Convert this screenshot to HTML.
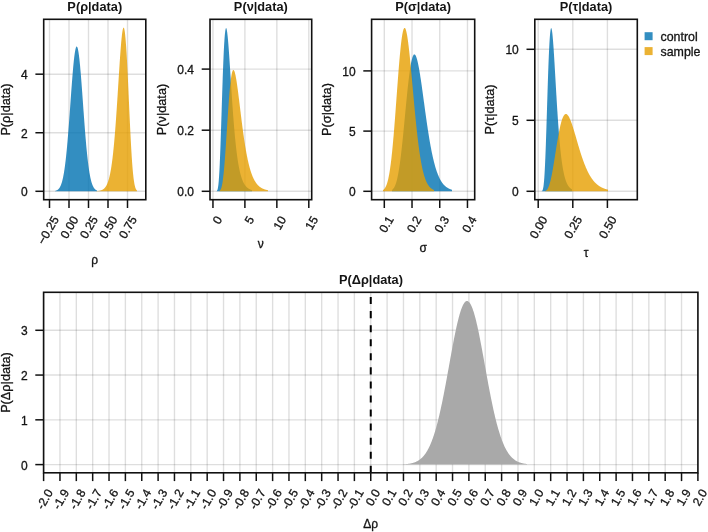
<!DOCTYPE html>
<html><head><meta charset="utf-8"><style>
html,body{margin:0;padding:0;background:#fff;}
body{width:708px;height:532px;position:relative;overflow:hidden;font-family:"Liberation Sans",sans-serif;}
</style></head><body>
<svg width="708" height="532" viewBox="0 0 708 532" style="position:absolute;left:0;top:0;will-change:transform">
<rect width="708" height="532" fill="#fff"/>
<g font-family="Liberation Sans, sans-serif" stroke-width="0.3">
<line x1="49.50" y1="19.3" x2="49.50" y2="199.7" stroke="rgba(0,0,0,0.13)" stroke-width="1.4"/>
<line x1="69.00" y1="19.3" x2="69.00" y2="199.7" stroke="rgba(0,0,0,0.13)" stroke-width="1.4"/>
<line x1="88.50" y1="19.3" x2="88.50" y2="199.7" stroke="rgba(0,0,0,0.13)" stroke-width="1.4"/>
<line x1="108.00" y1="19.3" x2="108.00" y2="199.7" stroke="rgba(0,0,0,0.13)" stroke-width="1.4"/>
<line x1="127.50" y1="19.3" x2="127.50" y2="199.7" stroke="rgba(0,0,0,0.13)" stroke-width="1.4"/>
<line x1="43.7" y1="191.30" x2="145.8" y2="191.30" stroke="rgba(0,0,0,0.13)" stroke-width="1.4"/>
<line x1="43.7" y1="132.74" x2="145.8" y2="132.74" stroke="rgba(0,0,0,0.13)" stroke-width="1.4"/>
<line x1="43.7" y1="74.18" x2="145.8" y2="74.18" stroke="rgba(0,0,0,0.13)" stroke-width="1.4"/>
<line x1="212.95" y1="19.3" x2="212.95" y2="199.7" stroke="rgba(0,0,0,0.13)" stroke-width="1.4"/>
<line x1="244.90" y1="19.3" x2="244.90" y2="199.7" stroke="rgba(0,0,0,0.13)" stroke-width="1.4"/>
<line x1="276.85" y1="19.3" x2="276.85" y2="199.7" stroke="rgba(0,0,0,0.13)" stroke-width="1.4"/>
<line x1="308.80" y1="19.3" x2="308.80" y2="199.7" stroke="rgba(0,0,0,0.13)" stroke-width="1.4"/>
<line x1="210.0" y1="191.30" x2="311.7" y2="191.30" stroke="rgba(0,0,0,0.13)" stroke-width="1.4"/>
<line x1="210.0" y1="130.20" x2="311.7" y2="130.20" stroke="rgba(0,0,0,0.13)" stroke-width="1.4"/>
<line x1="210.0" y1="69.10" x2="311.7" y2="69.10" stroke="rgba(0,0,0,0.13)" stroke-width="1.4"/>
<line x1="384.30" y1="19.3" x2="384.30" y2="199.7" stroke="rgba(0,0,0,0.13)" stroke-width="1.4"/>
<line x1="412.02" y1="19.3" x2="412.02" y2="199.7" stroke="rgba(0,0,0,0.13)" stroke-width="1.4"/>
<line x1="439.74" y1="19.3" x2="439.74" y2="199.7" stroke="rgba(0,0,0,0.13)" stroke-width="1.4"/>
<line x1="467.46" y1="19.3" x2="467.46" y2="199.7" stroke="rgba(0,0,0,0.13)" stroke-width="1.4"/>
<line x1="371.6" y1="191.30" x2="474.7" y2="191.30" stroke="rgba(0,0,0,0.13)" stroke-width="1.4"/>
<line x1="371.6" y1="131.10" x2="474.7" y2="131.10" stroke="rgba(0,0,0,0.13)" stroke-width="1.4"/>
<line x1="371.6" y1="70.90" x2="474.7" y2="70.90" stroke="rgba(0,0,0,0.13)" stroke-width="1.4"/>
<line x1="538.20" y1="19.3" x2="538.20" y2="199.7" stroke="rgba(0,0,0,0.13)" stroke-width="1.4"/>
<line x1="572.80" y1="19.3" x2="572.80" y2="199.7" stroke="rgba(0,0,0,0.13)" stroke-width="1.4"/>
<line x1="607.40" y1="19.3" x2="607.40" y2="199.7" stroke="rgba(0,0,0,0.13)" stroke-width="1.4"/>
<line x1="534.8" y1="191.30" x2="637.3" y2="191.30" stroke="rgba(0,0,0,0.13)" stroke-width="1.4"/>
<line x1="534.8" y1="120.30" x2="637.3" y2="120.30" stroke="rgba(0,0,0,0.13)" stroke-width="1.4"/>
<line x1="534.8" y1="49.30" x2="637.3" y2="49.30" stroke="rgba(0,0,0,0.13)" stroke-width="1.4"/>
<path d="M55.00,191.30 L55.00,190.92 55.14,190.89 55.28,190.85 55.42,190.82 55.56,190.78 55.70,190.74 55.84,190.70 55.98,190.65 56.12,190.60 56.26,190.55 56.40,190.49 56.55,190.43 56.69,190.37 56.83,190.30 56.97,190.23 57.11,190.15 57.25,190.07 57.39,189.98 57.53,189.89 57.67,189.79 57.81,189.68 57.95,189.57 58.09,189.45 58.23,189.33 58.37,189.20 58.51,189.06 58.65,188.91 58.79,188.75 58.93,188.59 59.07,188.41 59.21,188.22 59.35,188.03 59.49,187.82 59.64,187.61 59.78,187.38 59.92,187.13 60.06,186.88 60.20,186.61 60.34,186.33 60.48,186.04 60.62,185.73 60.76,185.40 60.90,185.06 61.04,184.71 61.18,184.33 61.32,183.94 61.46,183.53 61.60,183.10 61.74,182.66 61.88,182.19 62.02,181.70 62.16,181.19 62.30,180.66 62.44,180.11 62.59,179.53 62.73,178.93 62.87,178.31 63.01,177.66 63.15,176.98 63.29,176.28 63.43,175.56 63.57,174.80 63.71,174.02 63.85,173.22 63.99,172.38 64.13,171.51 64.27,170.62 64.41,169.69 64.55,168.74 64.69,167.75 64.83,166.74 64.97,165.69 65.11,164.61 65.25,163.50 65.39,162.36 65.54,161.19 65.68,159.98 65.82,158.74 65.96,157.47 66.10,156.17 66.24,154.83 66.38,153.47 66.52,152.07 66.66,150.64 66.80,149.18 66.94,147.69 67.08,146.17 67.22,144.62 67.36,143.04 67.50,141.43 67.64,139.79 67.78,138.12 67.92,136.43 68.06,134.72 68.20,132.97 68.34,131.21 68.48,129.42 68.63,127.61 68.77,125.78 68.91,123.93 69.05,122.07 69.19,120.18 69.33,118.28 69.47,116.37 69.61,114.45 69.75,112.52 69.89,110.57 70.03,108.63 70.17,106.67 70.31,104.71 70.45,102.76 70.59,100.80 70.73,98.84 70.87,96.89 71.01,94.95 71.15,93.02 71.29,91.09 71.43,89.18 71.58,87.29 71.72,85.41 71.86,83.55 72.00,81.72 72.14,79.91 72.28,78.12 72.42,76.36 72.56,74.64 72.70,72.94 72.84,71.29 72.98,69.67 73.12,68.08 73.26,66.54 73.40,65.05 73.54,63.60 73.68,62.19 73.82,60.84 73.96,59.54 74.10,58.29 74.24,57.09 74.38,55.96 74.53,54.88 74.67,53.86 74.81,52.90 74.95,52.00 75.09,51.17 75.23,50.40 75.37,49.70 75.51,49.07 75.65,48.50 75.79,48.01 75.93,47.58 76.07,47.22 76.21,46.94 76.35,46.72 76.49,46.58 76.63,46.51 76.77,46.51 76.91,46.58 77.05,46.73 77.19,46.94 77.33,47.23 77.47,47.59 77.62,48.02 77.76,48.52 77.90,49.09 78.04,49.72 78.18,50.43 78.32,51.20 78.46,52.03 78.60,52.93 78.74,53.89 78.88,54.91 79.02,55.99 79.16,57.13 79.30,58.33 79.44,59.58 79.58,60.88 79.72,62.24 79.86,63.65 80.00,65.10 80.14,66.60 80.28,68.14 80.42,69.72 80.57,71.34 80.71,73.00 80.85,74.69 80.99,76.42 81.13,78.18 81.27,79.97 81.41,81.78 81.55,83.62 81.69,85.47 81.83,87.35 81.97,89.25 82.11,91.16 82.25,93.08 82.39,95.02 82.53,96.96 82.67,98.91 82.81,100.86 82.95,102.82 83.09,104.78 83.23,106.74 83.37,108.69 83.52,110.64 83.66,112.58 83.80,114.51 83.94,116.44 84.08,118.35 84.22,120.25 84.36,122.13 84.50,123.99 84.64,125.84 84.78,127.67 84.92,129.48 85.06,131.27 85.20,133.03 85.34,134.77 85.48,136.49 85.62,138.18 85.76,139.84 85.90,141.48 86.04,143.09 86.18,144.67 86.32,146.22 86.46,147.74 86.61,149.23 86.75,150.69 86.89,152.12 87.03,153.51 87.17,154.88 87.31,156.21 87.45,157.51 87.59,158.78 87.73,160.02 87.87,161.23 88.01,162.40 88.15,163.54 88.29,164.65 88.43,165.73 88.57,166.77 88.71,167.79 88.85,168.77 88.99,169.73 89.13,170.65 89.27,171.54 89.41,172.41 89.56,173.24 89.70,174.05 89.84,174.83 89.98,175.58 90.12,176.31 90.26,177.01 90.40,177.68 90.54,178.33 90.68,178.95 90.82,179.55 90.96,180.12 91.10,180.68 91.24,181.21 91.38,181.72 91.52,182.20 91.66,182.67 91.80,183.12 91.94,183.55 92.08,183.95 92.22,184.35 92.36,184.72 92.51,185.08 92.65,185.42 92.79,185.74 92.93,186.05 93.07,186.34 93.21,186.62 93.35,186.89 93.49,187.14 93.63,187.38 93.77,187.61 93.91,187.83 94.05,188.04 94.19,188.23 94.33,188.42 94.47,188.59 94.61,188.76 94.75,188.91 94.89,189.06 95.03,189.20 95.17,189.33 95.31,189.46 95.45,189.58 95.60,189.69 95.74,189.79 95.88,189.89 96.02,189.98 96.16,190.07 96.30,190.15 96.44,190.23 96.58,190.30 96.72,190.37 96.86,190.43 97.00,190.49 L97.00,191.30 Z" fill="#0072B2" fill-opacity="0.8"/>
<path d="M96.00,191.30 L96.00,191.15 96.14,191.14 96.27,191.13 96.41,191.12 96.55,191.11 96.69,191.10 96.82,191.09 96.96,191.08 97.10,191.07 97.23,191.06 97.37,191.04 97.51,191.03 97.65,191.02 97.78,191.00 97.92,190.99 98.06,190.97 98.19,190.95 98.33,190.94 98.47,190.92 98.61,190.90 98.74,190.88 98.88,190.86 99.02,190.83 99.15,190.81 99.29,190.78 99.43,190.76 99.57,190.73 99.70,190.70 99.84,190.67 99.98,190.64 100.11,190.61 100.25,190.57 100.39,190.53 100.53,190.50 100.66,190.46 100.80,190.41 100.94,190.37 101.07,190.32 101.21,190.28 101.35,190.23 101.48,190.17 101.62,190.12 101.76,190.06 101.90,190.00 102.03,189.93 102.17,189.87 102.31,189.80 102.44,189.73 102.58,189.65 102.72,189.57 102.86,189.49 102.99,189.40 103.13,189.31 103.27,189.22 103.40,189.12 103.54,189.01 103.68,188.91 103.82,188.79 103.95,188.68 104.09,188.55 104.23,188.42 104.36,188.29 104.50,188.15 104.64,188.01 104.78,187.85 104.91,187.70 105.05,187.53 105.19,187.36 105.32,187.18 105.46,186.99 105.60,186.80 105.74,186.59 105.87,186.38 106.01,186.16 106.15,185.93 106.28,185.70 106.42,185.45 106.56,185.19 106.70,184.92 106.83,184.64 106.97,184.35 107.11,184.05 107.24,183.74 107.38,183.41 107.52,183.08 107.66,182.73 107.79,182.36 107.93,181.98 108.07,181.59 108.20,181.18 108.34,180.76 108.48,180.32 108.62,179.87 108.75,179.40 108.89,178.91 109.03,178.41 109.16,177.88 109.30,177.34 109.44,176.78 109.58,176.20 109.71,175.60 109.85,174.98 109.99,174.34 110.12,173.68 110.26,173.00 110.40,172.29 110.54,171.56 110.67,170.80 110.81,170.03 110.95,169.22 111.08,168.40 111.22,167.54 111.36,166.66 111.49,165.76 111.63,164.83 111.77,163.87 111.91,162.88 112.04,161.86 112.18,160.82 112.32,159.74 112.45,158.64 112.59,157.50 112.73,156.34 112.87,155.14 113.00,153.92 113.14,152.66 113.28,151.37 113.41,150.05 113.55,148.70 113.69,147.31 113.83,145.89 113.96,144.44 114.10,142.96 114.24,141.45 114.37,139.90 114.51,138.32 114.65,136.71 114.79,135.07 114.92,133.39 115.06,131.69 115.20,129.95 115.33,128.18 115.47,126.39 115.61,124.56 115.75,122.71 115.88,120.82 116.02,118.91 116.16,116.97 116.29,115.01 116.43,113.02 116.57,111.01 116.71,108.98 116.84,106.92 116.98,104.85 117.12,102.76 117.25,100.65 117.39,98.52 117.53,96.38 117.67,94.23 117.80,92.08 117.94,89.91 118.08,87.73 118.21,85.56 118.35,83.38 118.49,81.20 118.63,79.02 118.76,76.86 118.90,74.69 119.04,72.54 119.17,70.41 119.31,68.29 119.45,66.19 119.59,64.11 119.72,62.05 119.86,60.03 120.00,58.03 120.13,56.07 120.27,54.15 120.41,52.27 120.55,50.43 120.68,48.64 120.82,46.90 120.96,45.21 121.09,43.58 121.23,42.01 121.37,40.51 121.51,39.07 121.64,37.70 121.78,36.41 121.92,35.19 122.05,34.06 122.19,33.00 122.33,32.03 122.46,31.15 122.60,30.37 122.74,29.67 122.88,29.07 123.01,28.57 123.15,28.17 123.29,27.88 123.42,27.69 123.56,27.60 123.70,27.63 123.84,27.76 123.97,28.01 124.11,28.36 124.25,28.83 124.38,29.41 124.52,30.11 124.66,30.92 124.80,31.84 124.93,32.87 125.07,34.02 125.21,35.27 125.34,36.64 125.48,38.11 125.62,39.70 125.76,41.38 125.89,43.17 126.03,45.06 126.17,47.04 126.30,49.12 126.44,51.29 126.58,53.55 126.72,55.89 126.85,58.31 126.99,60.81 127.13,63.38 127.26,66.01 127.40,68.71 127.54,71.47 127.68,74.27 127.81,77.13 127.95,80.03 128.09,82.96 128.22,85.93 128.36,88.92 128.50,91.94 128.64,94.97 128.77,98.01 128.91,101.05 129.05,104.09 129.18,107.13 129.32,110.16 129.46,113.17 129.60,116.16 129.73,119.12 129.87,122.05 130.01,124.95 130.14,127.80 130.28,130.61 130.42,133.37 130.56,136.08 130.69,138.74 130.83,141.33 130.97,143.87 131.10,146.34 131.24,148.74 131.38,151.07 131.52,153.33 131.65,155.52 131.79,157.64 131.93,159.67 132.06,161.64 132.20,163.52 132.34,165.33 132.47,167.06 132.61,168.71 132.75,170.29 132.89,171.79 133.02,173.22 133.16,174.57 133.30,175.85 133.43,177.06 133.57,178.20 133.71,179.27 133.85,180.27 133.98,181.21 134.12,182.09 134.26,182.91 134.39,183.68 134.53,184.39 134.67,185.04 134.81,185.65 134.94,186.21 135.08,186.72 135.22,187.20 135.35,187.63 135.49,188.02 135.63,188.38 135.77,188.71 135.90,189.01 136.04,189.27 136.18,189.51 136.31,189.73 136.45,189.92 136.59,190.10 136.73,190.25 136.86,190.39 137.00,190.51 L137.00,191.30 Z" fill="#E69F00" fill-opacity="0.8"/>
<path d="M216.50,191.30 L216.50,191.14 216.62,191.08 216.74,191.00 216.86,190.89 216.97,190.75 217.09,190.58 217.21,190.37 217.33,190.10 217.45,189.79 217.57,189.41 217.69,188.96 217.81,188.43 217.92,187.83 218.04,187.13 218.16,186.33 218.28,185.42 218.40,184.41 218.52,183.27 218.64,182.01 218.76,180.63 218.87,179.11 218.99,177.46 219.11,175.67 219.23,173.74 219.35,171.68 219.47,169.47 219.59,167.13 219.71,164.66 219.82,162.05 219.94,159.32 220.06,156.46 220.18,153.49 220.30,150.41 220.42,147.22 220.54,143.94 220.66,140.57 220.77,137.12 220.89,133.60 221.01,130.02 221.13,126.39 221.25,122.72 221.37,119.01 221.49,115.29 221.61,111.55 221.72,107.81 221.84,104.08 221.96,100.36 222.08,96.67 222.20,93.02 222.32,89.41 222.44,85.86 222.56,82.36 222.67,78.94 222.79,75.58 222.91,72.32 223.03,69.14 223.15,66.05 223.27,63.07 223.39,60.19 223.51,57.42 223.62,54.77 223.74,52.23 223.86,49.82 223.98,47.52 224.10,45.36 224.22,43.32 224.34,41.41 224.45,39.63 224.57,37.98 224.69,36.46 224.81,35.07 224.93,33.81 225.05,32.68 225.17,31.68 225.29,30.81 225.40,30.06 225.52,29.44 225.64,28.94 225.76,28.56 225.88,28.29 226.00,28.14 226.12,28.10 226.24,28.17 226.35,28.35 226.47,28.62 226.59,29.00 226.71,29.47 226.83,30.04 226.95,30.70 227.07,31.44 227.19,32.26 227.30,33.17 227.42,34.14 227.54,35.19 227.66,36.31 227.78,37.50 227.90,38.74 228.02,40.05 228.14,41.41 228.25,42.82 228.37,44.28 228.49,45.78 228.61,47.33 228.73,48.92 228.85,50.54 228.97,52.20 229.09,53.88 229.20,55.60 229.32,57.33 229.44,59.10 229.56,60.88 229.68,62.68 229.80,64.49 229.92,66.32 230.04,68.15 230.15,70.00 230.27,71.85 230.39,73.71 230.51,75.57 230.63,77.43 230.75,79.29 230.87,81.15 230.98,83.01 231.10,84.86 231.22,86.70 231.34,88.53 231.46,90.36 231.58,92.18 231.70,93.98 231.82,95.77 231.93,97.55 232.05,99.32 232.17,101.06 232.29,102.80 232.41,104.51 232.53,106.21 232.65,107.89 232.77,109.56 232.88,111.20 233.00,112.82 233.12,114.43 233.24,116.01 233.36,117.57 233.48,119.11 233.60,120.63 233.72,122.13 233.83,123.61 233.95,125.06 234.07,126.50 234.19,127.91 234.31,129.29 234.43,130.66 234.55,132.00 234.67,133.32 234.78,134.62 234.90,135.90 235.02,137.15 235.14,138.38 235.26,139.59 235.38,140.78 235.50,141.94 235.62,143.08 235.73,144.21 235.85,145.31 235.97,146.39 236.09,147.44 236.21,148.48 236.33,149.50 236.45,150.49 236.57,151.47 236.68,152.43 236.80,153.36 236.92,154.28 237.04,155.18 237.16,156.05 237.28,156.91 237.40,157.76 237.52,158.58 237.63,159.38 237.75,160.17 237.87,160.94 237.99,161.70 238.11,162.43 238.23,163.15 238.35,163.86 238.46,164.54 238.58,165.22 238.70,165.87 238.82,166.51 238.94,167.14 239.06,167.75 239.18,168.35 239.30,168.94 239.41,169.51 239.53,170.06 239.65,170.61 239.77,171.14 239.89,171.66 240.01,172.16 240.13,172.66 240.25,173.14 240.36,173.61 240.48,174.06 240.60,174.51 240.72,174.95 240.84,175.37 240.96,175.79 241.08,176.19 241.20,176.59 241.31,176.97 241.43,177.35 241.55,177.71 241.67,178.07 241.79,178.42 241.91,178.76 242.03,179.09 242.15,179.41 242.26,179.72 242.38,180.03 242.50,180.33 242.62,180.62 242.74,180.90 242.86,181.18 242.98,181.45 243.10,181.71 243.21,181.96 243.33,182.21 243.45,182.45 243.57,182.69 243.69,182.92 243.81,183.14 243.93,183.36 244.05,183.57 244.16,183.78 244.28,183.98 244.40,184.18 244.52,184.37 244.64,184.55 244.76,184.73 244.88,184.91 244.99,185.08 245.11,185.25 245.23,185.41 245.35,185.57 245.47,185.72 245.59,185.87 245.71,186.02 245.83,186.16 245.94,186.30 246.06,186.44 246.18,186.57 246.30,186.69 246.42,186.82 246.54,186.94 246.66,187.06 246.78,187.17 246.89,187.28 247.01,187.39 247.13,187.50 247.25,187.60 247.37,187.70 247.49,187.80 247.61,187.89 247.73,187.98 247.84,188.07 247.96,188.16 248.08,188.25 248.20,188.33 248.32,188.41 248.44,188.49 248.56,188.56 248.68,188.64 248.79,188.71 248.91,188.78 249.03,188.85 249.15,188.91 249.27,188.98 249.39,189.04 249.51,189.10 249.63,189.16 249.74,189.22 249.86,189.27 249.98,189.33 250.10,189.38 250.22,189.43 250.34,189.49 250.46,189.53 250.58,189.58 250.69,189.63 250.81,189.67 250.93,189.72 251.05,189.76 251.17,189.80 251.29,189.84 251.41,189.88 251.53,189.92 251.64,189.96 251.76,189.99 251.88,190.03 252.00,190.06 L252.00,191.30 Z" fill="#0072B2" fill-opacity="0.8"/>
<path d="M219.50,191.30 L219.50,190.89 219.66,190.78 219.82,190.65 219.99,190.50 220.15,190.32 220.31,190.10 220.47,189.86 220.64,189.57 220.80,189.24 220.96,188.87 221.12,188.45 221.28,187.98 221.45,187.44 221.61,186.85 221.77,186.20 221.93,185.48 222.10,184.69 222.26,183.83 222.42,182.89 222.58,181.88 222.74,180.79 222.91,179.62 223.07,178.37 223.23,177.04 223.39,175.62 223.56,174.13 223.72,172.56 223.88,170.91 224.04,169.18 224.20,167.37 224.37,165.49 224.53,163.54 224.69,161.53 224.85,159.44 225.02,157.30 225.18,155.10 225.34,152.85 225.50,150.55 225.66,148.21 225.83,145.82 225.99,143.41 226.15,140.96 226.31,138.49 226.47,136.01 226.64,133.51 226.80,131.00 226.96,128.49 227.12,125.99 227.29,123.49 227.45,121.01 227.61,118.55 227.77,116.11 227.93,113.70 228.10,111.32 228.26,108.98 228.42,106.68 228.58,104.43 228.75,102.23 228.91,100.08 229.07,97.99 229.23,95.96 229.39,94.00 229.56,92.10 229.72,90.27 229.88,88.52 230.04,86.83 230.21,85.22 230.37,83.69 230.53,82.24 230.69,80.87 230.85,79.58 231.02,78.37 231.18,77.25 231.34,76.20 231.50,75.24 231.67,74.36 231.83,73.57 231.99,72.86 232.15,72.23 232.31,71.67 232.48,71.20 232.64,70.81 232.80,70.50 232.96,70.26 233.13,70.10 233.29,70.02 233.45,70.00 233.61,70.06 233.77,70.19 233.94,70.38 234.10,70.64 234.26,70.96 234.42,71.35 234.59,71.79 234.75,72.30 234.91,72.86 235.07,73.47 235.23,74.13 235.40,74.85 235.56,75.61 235.72,76.41 235.88,77.26 236.05,78.16 236.21,79.09 236.37,80.05 236.53,81.06 236.69,82.09 236.86,83.16 237.02,84.26 237.18,85.38 237.34,86.53 237.51,87.70 237.67,88.90 237.83,90.11 237.99,91.35 238.15,92.60 238.32,93.86 238.48,95.14 238.64,96.43 238.80,97.73 238.96,99.04 239.13,100.36 239.29,101.68 239.45,103.01 239.61,104.34 239.78,105.67 239.94,107.01 240.10,108.34 240.26,109.68 240.42,111.01 240.59,112.34 240.75,113.66 240.91,114.99 241.07,116.30 241.24,117.61 241.40,118.91 241.56,120.20 241.72,121.49 241.88,122.77 242.05,124.03 242.21,125.29 242.37,126.53 242.53,127.76 242.70,128.99 242.86,130.20 243.02,131.39 243.18,132.57 243.34,133.74 243.51,134.90 243.67,136.04 243.83,137.17 243.99,138.28 244.16,139.38 244.32,140.46 244.48,141.53 244.64,142.58 244.80,143.62 244.97,144.64 245.13,145.65 245.29,146.64 245.45,147.62 245.62,148.58 245.78,149.52 245.94,150.45 246.10,151.36 246.26,152.26 246.43,153.14 246.59,154.01 246.75,154.86 246.91,155.69 247.08,156.51 247.24,157.32 247.40,158.11 247.56,158.88 247.72,159.64 247.89,160.39 248.05,161.12 248.21,161.84 248.37,162.54 248.54,163.23 248.70,163.90 248.86,164.56 249.02,165.21 249.18,165.84 249.35,166.46 249.51,167.07 249.67,167.67 249.83,168.25 249.99,168.82 250.16,169.37 250.32,169.92 250.48,170.45 250.64,170.97 250.81,171.48 250.97,171.98 251.13,172.47 251.29,172.94 251.45,173.41 251.62,173.86 251.78,174.31 251.94,174.74 252.10,175.16 252.27,175.58 252.43,175.98 252.59,176.38 252.75,176.76 252.91,177.14 253.08,177.51 253.24,177.86 253.40,178.21 253.56,178.55 253.73,178.89 253.89,179.21 254.05,179.53 254.21,179.84 254.37,180.14 254.54,180.44 254.70,180.72 254.86,181.00 255.02,181.28 255.19,181.54 255.35,181.80 255.51,182.05 255.67,182.30 255.83,182.54 256.00,182.78 256.16,183.00 256.32,183.23 256.48,183.44 256.65,183.65 256.81,183.86 256.97,184.06 257.13,184.26 257.29,184.45 257.46,184.63 257.62,184.81 257.78,184.99 257.94,185.16 258.11,185.33 258.27,185.49 258.43,185.65 258.59,185.80 258.75,185.95 258.92,186.10 259.08,186.24 259.24,186.38 259.40,186.51 259.57,186.64 259.73,186.77 259.89,186.90 260.05,187.02 260.21,187.14 260.38,187.25 260.54,187.36 260.70,187.47 260.86,187.58 261.03,187.68 261.19,187.78 261.35,187.88 261.51,187.97 261.67,188.06 261.84,188.15 262.00,188.24 262.16,188.32 262.32,188.41 262.48,188.49 262.65,188.57 262.81,188.64 262.97,188.72 263.13,188.79 263.30,188.86 263.46,188.92 263.62,188.99 263.78,189.06 263.94,189.12 264.11,189.18 264.27,189.24 264.43,189.30 264.59,189.35 264.76,189.41 264.92,189.46 265.08,189.51 265.24,189.56 265.40,189.61 265.57,189.66 265.73,189.70 265.89,189.75 266.05,189.79 266.22,189.83 266.38,189.87 266.54,189.91 266.70,189.95 266.86,189.99 267.03,190.03 267.19,190.06 267.35,190.10 267.51,190.13 267.68,190.16 267.84,190.20 268.00,190.23 L268.00,191.30 Z" fill="#E69F00" fill-opacity="0.8"/>
<path d="M392.00,191.30 L392.00,190.00 392.20,189.85 392.40,189.68 392.60,189.50 392.80,189.31 393.00,189.09 393.20,188.86 393.40,188.61 393.61,188.34 393.81,188.04 394.01,187.72 394.21,187.38 394.41,187.02 394.61,186.62 394.81,186.20 395.01,185.75 395.21,185.27 395.41,184.76 395.61,184.22 395.81,183.64 396.01,183.03 396.21,182.38 396.41,181.69 396.62,180.97 396.82,180.21 397.02,179.40 397.22,178.56 397.42,177.68 397.62,176.75 397.82,175.78 398.02,174.77 398.22,173.72 398.42,172.62 398.62,171.47 398.82,170.28 399.02,169.05 399.22,167.77 399.42,166.45 399.63,165.08 399.83,163.67 400.03,162.21 400.23,160.72 400.43,159.17 400.63,157.59 400.83,155.97 401.03,154.30 401.23,152.60 401.43,150.86 401.63,149.08 401.83,147.27 402.03,145.43 402.23,143.55 402.43,141.64 402.64,139.70 402.84,137.74 403.04,135.75 403.24,133.74 403.44,131.71 403.64,129.67 403.84,127.60 404.04,125.52 404.24,123.43 404.44,121.34 404.64,119.23 404.84,117.12 405.04,115.01 405.24,112.90 405.44,110.80 405.65,108.70 405.85,106.61 406.05,104.53 406.25,102.47 406.45,100.42 406.65,98.39 406.85,96.38 407.05,94.40 407.25,92.44 407.45,90.51 407.65,88.62 407.85,86.75 408.05,84.93 408.25,83.14 408.45,81.39 408.66,79.68 408.86,78.02 409.06,76.40 409.26,74.83 409.46,73.31 409.66,71.84 409.86,70.42 410.06,69.06 410.26,67.75 410.46,66.50 410.66,65.30 410.86,64.17 411.06,63.09 411.26,62.08 411.46,61.13 411.67,60.23 411.87,59.41 412.07,58.64 412.27,57.94 412.47,57.30 412.67,56.72 412.87,56.21 413.07,55.77 413.27,55.38 413.47,55.06 413.67,54.81 413.87,54.61 414.07,54.48 414.27,54.41 414.47,54.40 414.68,54.46 414.88,54.57 415.08,54.74 415.28,54.97 415.48,55.26 415.68,55.60 415.88,56.00 416.08,56.46 416.28,56.96 416.48,57.52 416.68,58.13 416.88,58.79 417.08,59.49 417.28,60.24 417.48,61.04 417.69,61.88 417.89,62.77 418.09,63.69 418.29,64.65 418.49,65.66 418.69,66.69 418.89,67.77 419.09,68.87 419.29,70.01 419.49,71.18 419.69,72.38 419.89,73.60 420.09,74.85 420.29,76.13 420.49,77.43 420.70,78.75 420.90,80.09 421.10,81.44 421.30,82.82 421.50,84.21 421.70,85.61 421.90,87.03 422.10,88.46 422.30,89.90 422.50,91.35 422.70,92.81 422.90,94.27 423.10,95.74 423.30,97.21 423.51,98.69 423.71,100.16 423.91,101.64 424.11,103.12 424.31,104.59 424.51,106.07 424.71,107.54 424.91,109.00 425.11,110.47 425.31,111.92 425.51,113.37 425.71,114.81 425.91,116.25 426.11,117.67 426.31,119.08 426.52,120.49 426.72,121.88 426.92,123.26 427.12,124.63 427.32,125.99 427.52,127.33 427.72,128.66 427.92,129.98 428.12,131.28 428.32,132.57 428.52,133.84 428.72,135.10 428.92,136.34 429.12,137.56 429.32,138.77 429.53,139.96 429.73,141.13 429.93,142.29 430.13,143.43 430.33,144.55 430.53,145.66 430.73,146.75 430.93,147.82 431.13,148.87 431.33,149.90 431.53,150.92 431.73,151.92 431.93,152.90 432.13,153.87 432.33,154.81 432.54,155.74 432.74,156.65 432.94,157.55 433.14,158.42 433.34,159.28 433.54,160.12 433.74,160.95 433.94,161.76 434.14,162.55 434.34,163.32 434.54,164.08 434.74,164.82 434.94,165.55 435.14,166.26 435.34,166.95 435.55,167.63 435.75,168.29 435.95,168.94 436.15,169.57 436.35,170.19 436.55,170.79 436.75,171.38 436.95,171.96 437.15,172.52 437.35,173.07 437.55,173.60 437.75,174.12 437.95,174.63 438.15,175.12 438.35,175.61 438.56,176.08 438.76,176.53 438.96,176.98 439.16,177.41 439.36,177.84 439.56,178.25 439.76,178.65 439.96,179.04 440.16,179.42 440.36,179.79 440.56,180.15 440.76,180.49 440.96,180.83 441.16,181.16 441.36,181.48 441.57,181.80 441.77,182.10 441.97,182.39 442.17,182.68 442.37,182.96 442.57,183.23 442.77,183.49 442.97,183.74 443.17,183.99 443.37,184.23 443.57,184.46 443.77,184.68 443.97,184.90 444.17,185.11 444.37,185.32 444.58,185.52 444.78,185.71 444.98,185.90 445.18,186.08 445.38,186.26 445.58,186.43 445.78,186.59 445.98,186.75 446.18,186.91 446.38,187.06 446.58,187.20 446.78,187.34 446.98,187.48 447.18,187.61 447.38,187.74 447.59,187.86 447.79,187.98 447.99,188.10 448.19,188.21 448.39,188.32 448.59,188.42 448.79,188.52 448.99,188.62 449.19,188.72 449.39,188.81 449.59,188.90 449.79,188.98 449.99,189.06 450.19,189.14 450.39,189.22 450.60,189.30 450.80,189.37 451.00,189.44 451.20,189.51 451.40,189.57 451.60,189.63 451.80,189.69 452.00,189.75 L452.00,191.30 Z" fill="#0072B2" fill-opacity="0.8"/>
<path d="M383.00,191.30 L383.00,190.06 383.17,189.95 383.34,189.82 383.51,189.68 383.68,189.54 383.85,189.38 384.02,189.21 384.19,189.03 384.36,188.83 384.54,188.62 384.71,188.39 384.88,188.15 385.05,187.90 385.22,187.62 385.39,187.33 385.56,187.02 385.73,186.68 385.90,186.33 386.07,185.96 386.24,185.56 386.41,185.14 386.58,184.69 386.75,184.22 386.92,183.72 387.09,183.20 387.26,182.65 387.43,182.06 387.61,181.45 387.78,180.81 387.95,180.13 388.12,179.42 388.29,178.68 388.46,177.90 388.63,177.08 388.80,176.23 388.97,175.35 389.14,174.42 389.31,173.46 389.48,172.45 389.65,171.41 389.82,170.33 389.99,169.20 390.16,168.04 390.33,166.83 390.51,165.58 390.68,164.28 390.85,162.95 391.02,161.57 391.19,160.15 391.36,158.68 391.53,157.17 391.70,155.62 391.87,154.03 392.04,152.40 392.21,150.72 392.38,149.00 392.55,147.24 392.72,145.45 392.89,143.61 393.06,141.73 393.23,139.82 393.40,137.87 393.58,135.89 393.75,133.87 393.92,131.82 394.09,129.74 394.26,127.63 394.43,125.49 394.60,123.33 394.77,121.14 394.94,118.92 395.11,116.69 395.28,114.44 395.45,112.17 395.62,109.89 395.79,107.59 395.96,105.28 396.13,102.97 396.30,100.65 396.47,98.32 396.65,96.00 396.82,93.67 396.99,91.35 397.16,89.04 397.33,86.74 397.50,84.44 397.67,82.17 397.84,79.90 398.01,77.66 398.18,75.44 398.35,73.24 398.52,71.07 398.69,68.93 398.86,66.82 399.03,64.75 399.20,62.71 399.37,60.71 399.55,58.76 399.72,56.84 399.89,54.98 400.06,53.16 400.23,51.39 400.40,49.67 400.57,48.01 400.74,46.40 400.91,44.85 401.08,43.37 401.25,41.94 401.42,40.57 401.59,39.27 401.76,38.04 401.93,36.87 402.10,35.77 402.27,34.74 402.44,33.78 402.62,32.89 402.79,32.07 402.96,31.32 403.13,30.65 403.30,30.05 403.47,29.52 403.64,29.07 403.81,28.69 403.98,28.38 404.15,28.15 404.32,28.00 404.49,27.91 404.66,27.90 404.83,27.97 405.00,28.10 405.17,28.31 405.34,28.59 405.52,28.93 405.69,29.35 405.86,29.84 406.03,30.39 406.20,31.00 406.37,31.69 406.54,32.43 406.71,33.24 406.88,34.11 407.05,35.04 407.22,36.02 407.39,37.06 407.56,38.16 407.73,39.31 407.90,40.51 408.07,41.76 408.24,43.06 408.41,44.40 408.59,45.79 408.76,47.22 408.93,48.69 409.10,50.20 409.27,51.74 409.44,53.32 409.61,54.94 409.78,56.58 409.95,58.26 410.12,59.96 410.29,61.68 410.46,63.43 410.63,65.20 410.80,67.00 410.97,68.81 411.14,70.63 411.31,72.47 411.48,74.32 411.66,76.19 411.83,78.06 412.00,79.94 412.17,81.83 412.34,83.72 412.51,85.61 412.68,87.51 412.85,89.40 413.02,91.29 413.19,93.18 413.36,95.07 413.53,96.95 413.70,98.82 413.87,100.69 414.04,102.54 414.21,104.39 414.38,106.22 414.56,108.04 414.73,109.85 414.90,111.64 415.07,113.42 415.24,115.18 415.41,116.92 415.58,118.65 415.75,120.35 415.92,122.04 416.09,123.71 416.26,125.35 416.43,126.98 416.60,128.58 416.77,130.16 416.94,131.72 417.11,133.25 417.28,134.76 417.45,136.25 417.63,137.71 417.80,139.15 417.97,140.57 418.14,141.96 418.31,143.32 418.48,144.66 418.65,145.97 418.82,147.26 418.99,148.53 419.16,149.77 419.33,150.98 419.50,152.17 419.67,153.33 419.84,154.47 420.01,155.58 420.18,156.67 420.35,157.74 420.53,158.78 420.70,159.79 420.87,160.78 421.04,161.75 421.21,162.69 421.38,163.61 421.55,164.51 421.72,165.39 421.89,166.24 422.06,167.07 422.23,167.88 422.40,168.66 422.57,169.43 422.74,170.17 422.91,170.90 423.08,171.60 423.25,172.29 423.42,172.95 423.60,173.59 423.77,174.22 423.94,174.83 424.11,175.42 424.28,175.99 424.45,176.55 424.62,177.08 424.79,177.60 424.96,178.11 425.13,178.60 425.30,179.07 425.47,179.53 425.64,179.97 425.81,180.40 425.98,180.82 426.15,181.22 426.32,181.61 426.49,181.98 426.67,182.35 426.84,182.70 427.01,183.04 427.18,183.36 427.35,183.68 427.52,183.98 427.69,184.27 427.86,184.56 428.03,184.83 428.20,185.09 428.37,185.35 428.54,185.59 428.71,185.83 428.88,186.05 429.05,186.27 429.22,186.48 429.39,186.68 429.57,186.88 429.74,187.06 429.91,187.24 430.08,187.42 430.25,187.58 430.42,187.74 430.59,187.90 430.76,188.04 430.93,188.19 431.10,188.32 431.27,188.45 431.44,188.58 431.61,188.70 431.78,188.81 431.95,188.92 432.12,189.03 432.29,189.13 432.46,189.23 432.64,189.32 432.81,189.41 432.98,189.50 433.15,189.58 433.32,189.66 433.49,189.74 433.66,189.81 433.83,189.88 434.00,189.94 L434.00,191.30 Z" fill="#E69F00" fill-opacity="0.8"/>
<path d="M541.80,191.30 L541.80,191.10 541.90,191.04 542.00,190.97 542.10,190.88 542.20,190.77 542.31,190.63 542.41,190.48 542.51,190.29 542.61,190.07 542.71,189.81 542.81,189.51 542.91,189.17 543.01,188.78 543.11,188.33 543.21,187.83 543.32,187.27 543.42,186.63 543.52,185.93 543.62,185.15 543.72,184.30 543.82,183.36 543.92,182.33 544.02,181.21 544.12,180.01 544.22,178.71 544.33,177.31 544.43,175.81 544.53,174.21 544.63,172.52 544.73,170.72 544.83,168.82 544.93,166.82 545.03,164.72 545.13,162.52 545.23,160.23 545.34,157.85 545.44,155.37 545.54,152.81 545.64,150.16 545.74,147.43 545.84,144.63 545.94,141.76 546.04,138.83 546.14,135.83 546.24,132.78 546.35,129.69 546.45,126.55 546.55,123.37 546.65,120.17 546.75,116.94 546.85,113.70 546.95,110.44 547.05,107.18 547.15,103.93 547.25,100.68 547.36,97.45 547.46,94.24 547.56,91.06 547.66,87.91 547.76,84.80 547.86,81.74 547.96,78.72 548.06,75.77 548.16,72.87 548.26,70.04 548.37,67.28 548.47,64.59 548.57,61.98 548.67,59.45 548.77,57.01 548.87,54.65 548.97,52.39 549.07,50.22 549.17,48.14 549.27,46.17 549.38,44.29 549.48,42.51 549.58,40.84 549.68,39.27 549.78,37.81 549.88,36.44 549.98,35.19 550.08,34.04 550.18,32.99 550.28,32.05 550.39,31.21 550.49,30.47 550.59,29.84 550.69,29.30 550.79,28.87 550.89,28.53 550.99,28.29 551.09,28.15 551.19,28.10 551.29,28.14 551.40,28.27 551.50,28.48 551.60,28.78 551.70,29.17 551.80,29.63 551.90,30.17 552.00,30.79 552.10,31.48 552.20,32.24 552.30,33.06 552.41,33.96 552.51,34.91 552.61,35.93 552.71,37.00 552.81,38.13 552.91,39.31 553.01,40.54 553.11,41.82 553.21,43.14 553.31,44.51 553.42,45.91 553.52,47.35 553.62,48.83 553.72,50.34 553.82,51.88 553.92,53.45 554.02,55.04 554.12,56.66 554.22,58.30 554.32,59.96 554.43,61.64 554.53,63.34 554.63,65.04 554.73,66.76 554.83,68.49 554.93,70.23 555.03,71.98 555.13,73.73 555.23,75.48 555.33,77.24 555.44,79.00 555.54,80.76 555.64,82.51 555.74,84.26 555.84,86.01 555.94,87.76 556.04,89.49 556.14,91.22 556.24,92.94 556.34,94.65 556.45,96.35 556.55,98.04 556.65,99.72 556.75,101.38 556.85,103.03 556.95,104.67 557.05,106.29 557.15,107.90 557.25,109.49 557.35,111.06 557.46,112.62 557.56,114.16 557.66,115.68 557.76,117.18 557.86,118.67 557.96,120.14 558.06,121.58 558.16,123.01 558.26,124.42 558.36,125.81 558.47,127.18 558.57,128.53 558.67,129.86 558.77,131.17 558.87,132.46 558.97,133.73 559.07,134.98 559.17,136.21 559.27,137.42 559.37,138.60 559.48,139.77 559.58,140.92 559.68,142.05 559.78,143.16 559.88,144.25 559.98,145.32 560.08,146.37 560.18,147.40 560.28,148.41 560.38,149.40 560.49,150.38 560.59,151.33 560.69,152.27 560.79,153.18 560.89,154.08 560.99,154.97 561.09,155.83 561.19,156.68 561.29,157.51 561.39,158.32 561.50,159.11 561.60,159.89 561.70,160.66 561.80,161.40 561.90,162.13 562.00,162.85 562.10,163.55 562.20,164.23 562.30,164.90 562.40,165.55 562.51,166.19 562.61,166.82 562.71,167.43 562.81,168.03 562.91,168.61 563.01,169.19 563.11,169.74 563.21,170.29 563.31,170.82 563.41,171.34 563.52,171.85 563.62,172.35 563.72,172.83 563.82,173.31 563.92,173.77 564.02,174.22 564.12,174.66 564.22,175.09 564.32,175.51 564.42,175.92 564.53,176.32 564.63,176.71 564.73,177.09 564.83,177.46 564.93,177.82 565.03,178.18 565.13,178.52 565.23,178.86 565.33,179.19 565.43,179.51 565.54,179.82 565.64,180.12 565.74,180.42 565.84,180.71 565.94,180.99 566.04,181.26 566.14,181.53 566.24,181.79 566.34,182.04 566.44,182.29 566.55,182.53 566.65,182.77 566.75,183.00 566.85,183.22 566.95,183.44 567.05,183.65 567.15,183.86 567.25,184.06 567.35,184.25 567.45,184.44 567.56,184.63 567.66,184.81 567.76,184.99 567.86,185.16 567.96,185.32 568.06,185.49 568.16,185.64 568.26,185.80 568.36,185.95 568.46,186.09 568.57,186.24 568.67,186.37 568.77,186.51 568.87,186.64 568.97,186.77 569.07,186.89 569.17,187.01 569.27,187.13 569.37,187.24 569.47,187.36 569.58,187.46 569.68,187.57 569.78,187.67 569.88,187.77 569.98,187.87 570.08,187.96 570.18,188.06 570.28,188.15 570.38,188.23 570.48,188.32 570.59,188.40 570.69,188.48 570.79,188.56 570.89,188.63 570.99,188.71 571.09,188.78 571.19,188.85 571.29,188.92 571.39,188.98 571.49,189.05 571.60,189.11 571.70,189.17 571.80,189.23 571.90,189.29 572.00,189.34 L572.00,191.30 Z" fill="#0072B2" fill-opacity="0.8"/>
<path d="M544.00,191.30 L544.00,191.27 544.21,191.25 544.43,191.23 544.64,191.19 544.86,191.15 545.07,191.09 545.28,191.03 545.50,190.94 545.71,190.84 545.93,190.72 546.14,190.58 546.35,190.41 546.57,190.22 546.78,190.01 547.00,189.76 547.21,189.49 547.42,189.18 547.64,188.84 547.85,188.46 548.07,188.05 548.28,187.60 548.49,187.11 548.71,186.59 548.92,186.02 549.14,185.42 549.35,184.78 549.57,184.09 549.78,183.37 549.99,182.60 550.21,181.80 550.42,180.96 550.64,180.08 550.85,179.16 551.06,178.20 551.28,177.21 551.49,176.19 551.71,175.13 551.92,174.04 552.13,172.92 552.35,171.77 552.56,170.59 552.78,169.39 552.99,168.17 553.20,166.92 553.42,165.65 553.63,164.36 553.85,163.06 554.06,161.75 554.27,160.42 554.49,159.08 554.70,157.73 554.92,156.38 555.13,155.02 555.34,153.67 555.56,152.31 555.77,150.95 555.99,149.60 556.20,148.25 556.41,146.91 556.63,145.59 556.84,144.27 557.06,142.96 557.27,141.68 557.48,140.40 557.70,139.15 557.91,137.91 558.13,136.70 558.34,135.51 558.56,134.34 558.77,133.20 558.98,132.08 559.20,130.99 559.41,129.93 559.63,128.90 559.84,127.90 560.05,126.93 560.27,126.00 560.48,125.09 560.70,124.22 560.91,123.38 561.12,122.58 561.34,121.81 561.55,121.08 561.77,120.39 561.98,119.73 562.19,119.10 562.41,118.52 562.62,117.97 562.84,117.45 563.05,116.97 563.26,116.53 563.48,116.13 563.69,115.76 563.91,115.43 564.12,115.13 564.33,114.87 564.55,114.64 564.76,114.45 564.98,114.29 565.19,114.17 565.40,114.08 565.62,114.02 565.83,114.00 566.05,114.01 566.26,114.05 566.47,114.12 566.69,114.22 566.90,114.35 567.12,114.51 567.33,114.70 567.55,114.91 567.76,115.15 567.97,115.42 568.19,115.71 568.40,116.03 568.62,116.37 568.83,116.74 569.04,117.12 569.26,117.53 569.47,117.96 569.69,118.41 569.90,118.88 570.11,119.37 570.33,119.88 570.54,120.40 570.76,120.94 570.97,121.50 571.18,122.07 571.40,122.66 571.61,123.25 571.83,123.87 572.04,124.49 572.25,125.13 572.47,125.77 572.68,126.43 572.90,127.09 573.11,127.77 573.32,128.45 573.54,129.14 573.75,129.84 573.97,130.55 574.18,131.26 574.39,131.97 574.61,132.69 574.82,133.41 575.04,134.14 575.25,134.87 575.46,135.60 575.68,136.34 575.89,137.08 576.11,137.81 576.32,138.55 576.54,139.29 576.75,140.03 576.96,140.77 577.18,141.50 577.39,142.24 577.61,142.97 577.82,143.70 578.03,144.43 578.25,145.16 578.46,145.88 578.68,146.60 578.89,147.32 579.10,148.03 579.32,148.74 579.53,149.44 579.75,150.14 579.96,150.83 580.17,151.52 580.39,152.21 580.60,152.88 580.82,153.56 581.03,154.22 581.24,154.88 581.46,155.54 581.67,156.18 581.89,156.82 582.10,157.46 582.31,158.08 582.53,158.70 582.74,159.32 582.96,159.92 583.17,160.52 583.38,161.11 583.60,161.70 583.81,162.28 584.03,162.85 584.24,163.41 584.45,163.96 584.67,164.51 584.88,165.05 585.10,165.58 585.31,166.11 585.53,166.62 585.74,167.13 585.95,167.64 586.17,168.13 586.38,168.62 586.60,169.10 586.81,169.57 587.02,170.03 587.24,170.49 587.45,170.94 587.67,171.38 587.88,171.81 588.09,172.24 588.31,172.66 588.52,173.07 588.74,173.48 588.95,173.88 589.16,174.27 589.38,174.65 589.59,175.03 589.81,175.40 590.02,175.76 590.23,176.12 590.45,176.47 590.66,176.81 590.88,177.15 591.09,177.48 591.30,177.80 591.52,178.12 591.73,178.43 591.95,178.74 592.16,179.04 592.37,179.33 592.59,179.62 592.80,179.90 593.02,180.18 593.23,180.45 593.44,180.71 593.66,180.97 593.87,181.22 594.09,181.47 594.30,181.71 594.52,181.95 594.73,182.18 594.94,182.41 595.16,182.63 595.37,182.85 595.59,183.06 595.80,183.27 596.01,183.48 596.23,183.67 596.44,183.87 596.66,184.06 596.87,184.25 597.08,184.43 597.30,184.60 597.51,184.78 597.73,184.95 597.94,185.11 598.15,185.27 598.37,185.43 598.58,185.59 598.80,185.74 599.01,185.88 599.22,186.03 599.44,186.17 599.65,186.30 599.87,186.44 600.08,186.57 600.29,186.69 600.51,186.82 600.72,186.94 600.94,187.06 601.15,187.17 601.36,187.28 601.58,187.39 601.79,187.50 602.01,187.60 602.22,187.71 602.43,187.80 602.65,187.90 602.86,187.99 603.08,188.09 603.29,188.18 603.51,188.26 603.72,188.35 603.93,188.43 604.15,188.51 604.36,188.59 604.58,188.66 604.79,188.74 605.00,188.81 605.22,188.88 605.43,188.95 605.65,189.02 605.86,189.08 606.07,189.14 606.29,189.21 606.50,189.27 606.72,189.32 606.93,189.38 607.14,189.44 607.36,189.49 607.57,189.54 607.79,189.59 608.00,189.64 L608.00,191.30 Z" fill="#E69F00" fill-opacity="0.8"/>
<rect x="43.7" y="19.3" width="102.10" height="180.40" fill="none" stroke="#111111" stroke-width="1.6"/>
<line x1="49.50" y1="199.7" x2="49.50" y2="208.00" stroke="#111111" stroke-width="1.5"/>
<text transform="translate(51.00,214.40) rotate(-60)" x="0" y="9.5" text-anchor="end" font-size="12" fill="#141414" stroke="#141414">−0.25</text>
<line x1="69.00" y1="199.7" x2="69.00" y2="208.00" stroke="#111111" stroke-width="1.5"/>
<text transform="translate(70.50,214.40) rotate(-60)" x="0" y="9.5" text-anchor="end" font-size="12" fill="#141414" stroke="#141414">0.00</text>
<line x1="88.50" y1="199.7" x2="88.50" y2="208.00" stroke="#111111" stroke-width="1.5"/>
<text transform="translate(90.00,214.40) rotate(-60)" x="0" y="9.5" text-anchor="end" font-size="12" fill="#141414" stroke="#141414">0.25</text>
<line x1="108.00" y1="199.7" x2="108.00" y2="208.00" stroke="#111111" stroke-width="1.5"/>
<text transform="translate(109.50,214.40) rotate(-60)" x="0" y="9.5" text-anchor="end" font-size="12" fill="#141414" stroke="#141414">0.50</text>
<line x1="127.50" y1="199.7" x2="127.50" y2="208.00" stroke="#111111" stroke-width="1.5"/>
<text transform="translate(129.00,214.40) rotate(-60)" x="0" y="9.5" text-anchor="end" font-size="12" fill="#141414" stroke="#141414">0.75</text>
<line x1="35.40" y1="191.30" x2="43.7" y2="191.30" stroke="#111111" stroke-width="1.5"/>
<text x="27.70" y="196.40" text-anchor="end" font-size="12" fill="#141414" stroke="#141414">0</text>
<line x1="35.40" y1="132.74" x2="43.7" y2="132.74" stroke="#111111" stroke-width="1.5"/>
<text x="27.70" y="137.84" text-anchor="end" font-size="12" fill="#141414" stroke="#141414">2</text>
<line x1="35.40" y1="74.18" x2="43.7" y2="74.18" stroke="#111111" stroke-width="1.5"/>
<text x="27.70" y="79.28" text-anchor="end" font-size="12" fill="#141414" stroke="#141414">4</text>
<text transform="translate(94.75,10.5) scale(1.04,1)" text-anchor="middle" font-size="12.3" font-weight="bold" fill="#141414" stroke="none">P(ρ|data)</text>
<text x="94.75" y="263.5" text-anchor="middle" font-size="12" fill="#141414" stroke="#141414">ρ</text>
<text transform="translate(9.80,109.50) rotate(-90) scale(1.06,1)" x="0" y="0" text-anchor="middle" font-size="12" fill="#141414" stroke="#141414">P(ρ|data)</text>
<rect x="210.0" y="19.3" width="101.70" height="180.40" fill="none" stroke="#111111" stroke-width="1.6"/>
<line x1="212.95" y1="199.7" x2="212.95" y2="208.00" stroke="#111111" stroke-width="1.5"/>
<text transform="translate(214.45,214.40) rotate(-60)" x="0" y="9.5" text-anchor="end" font-size="12" fill="#141414" stroke="#141414">0</text>
<line x1="244.90" y1="199.7" x2="244.90" y2="208.00" stroke="#111111" stroke-width="1.5"/>
<text transform="translate(246.40,214.40) rotate(-60)" x="0" y="9.5" text-anchor="end" font-size="12" fill="#141414" stroke="#141414">5</text>
<line x1="276.85" y1="199.7" x2="276.85" y2="208.00" stroke="#111111" stroke-width="1.5"/>
<text transform="translate(278.35,214.40) rotate(-60)" x="0" y="9.5" text-anchor="end" font-size="12" fill="#141414" stroke="#141414">10</text>
<line x1="308.80" y1="199.7" x2="308.80" y2="208.00" stroke="#111111" stroke-width="1.5"/>
<text transform="translate(310.30,214.40) rotate(-60)" x="0" y="9.5" text-anchor="end" font-size="12" fill="#141414" stroke="#141414">15</text>
<line x1="201.70" y1="191.30" x2="210.0" y2="191.30" stroke="#111111" stroke-width="1.5"/>
<text x="194.00" y="196.40" text-anchor="end" font-size="12" fill="#141414" stroke="#141414">0.0</text>
<line x1="201.70" y1="130.20" x2="210.0" y2="130.20" stroke="#111111" stroke-width="1.5"/>
<text x="194.00" y="135.30" text-anchor="end" font-size="12" fill="#141414" stroke="#141414">0.2</text>
<line x1="201.70" y1="69.10" x2="210.0" y2="69.10" stroke="#111111" stroke-width="1.5"/>
<text x="194.00" y="74.20" text-anchor="end" font-size="12" fill="#141414" stroke="#141414">0.4</text>
<text transform="translate(260.85,10.5) scale(1.04,1)" text-anchor="middle" font-size="12.3" font-weight="bold" fill="#141414" stroke="none">P(ν|data)</text>
<text x="260.85" y="248.0" text-anchor="middle" font-size="12" fill="#141414" stroke="#141414">ν</text>
<text transform="translate(166.30,109.50) rotate(-90) scale(1.06,1)" x="0" y="0" text-anchor="middle" font-size="12" fill="#141414" stroke="#141414">P(ν|data)</text>
<rect x="371.6" y="19.3" width="103.10" height="180.40" fill="none" stroke="#111111" stroke-width="1.6"/>
<line x1="384.30" y1="199.7" x2="384.30" y2="208.00" stroke="#111111" stroke-width="1.5"/>
<text transform="translate(385.80,214.40) rotate(-60)" x="0" y="9.5" text-anchor="end" font-size="12" fill="#141414" stroke="#141414">0.1</text>
<line x1="412.02" y1="199.7" x2="412.02" y2="208.00" stroke="#111111" stroke-width="1.5"/>
<text transform="translate(413.52,214.40) rotate(-60)" x="0" y="9.5" text-anchor="end" font-size="12" fill="#141414" stroke="#141414">0.2</text>
<line x1="439.74" y1="199.7" x2="439.74" y2="208.00" stroke="#111111" stroke-width="1.5"/>
<text transform="translate(441.24,214.40) rotate(-60)" x="0" y="9.5" text-anchor="end" font-size="12" fill="#141414" stroke="#141414">0.3</text>
<line x1="467.46" y1="199.7" x2="467.46" y2="208.00" stroke="#111111" stroke-width="1.5"/>
<text transform="translate(468.96,214.40) rotate(-60)" x="0" y="9.5" text-anchor="end" font-size="12" fill="#141414" stroke="#141414">0.4</text>
<line x1="363.30" y1="191.30" x2="371.6" y2="191.30" stroke="#111111" stroke-width="1.5"/>
<text x="355.60" y="196.40" text-anchor="end" font-size="12" fill="#141414" stroke="#141414">0</text>
<line x1="363.30" y1="131.10" x2="371.6" y2="131.10" stroke="#111111" stroke-width="1.5"/>
<text x="355.60" y="136.20" text-anchor="end" font-size="12" fill="#141414" stroke="#141414">5</text>
<line x1="363.30" y1="70.90" x2="371.6" y2="70.90" stroke="#111111" stroke-width="1.5"/>
<text x="355.60" y="76.00" text-anchor="end" font-size="12" fill="#141414" stroke="#141414">10</text>
<text transform="translate(423.15,10.5) scale(1.04,1)" text-anchor="middle" font-size="12.3" font-weight="bold" fill="#141414" stroke="none">P(σ|data)</text>
<text x="423.15" y="251.5" text-anchor="middle" font-size="12" fill="#141414" stroke="#141414">σ</text>
<text transform="translate(331.00,109.50) rotate(-90) scale(1.06,1)" x="0" y="0" text-anchor="middle" font-size="12" fill="#141414" stroke="#141414">P(σ|data)</text>
<rect x="534.8" y="19.3" width="102.50" height="180.40" fill="none" stroke="#111111" stroke-width="1.6"/>
<line x1="538.20" y1="199.7" x2="538.20" y2="208.00" stroke="#111111" stroke-width="1.5"/>
<text transform="translate(539.70,214.40) rotate(-60)" x="0" y="9.5" text-anchor="end" font-size="12" fill="#141414" stroke="#141414">0.00</text>
<line x1="572.80" y1="199.7" x2="572.80" y2="208.00" stroke="#111111" stroke-width="1.5"/>
<text transform="translate(574.30,214.40) rotate(-60)" x="0" y="9.5" text-anchor="end" font-size="12" fill="#141414" stroke="#141414">0.25</text>
<line x1="607.40" y1="199.7" x2="607.40" y2="208.00" stroke="#111111" stroke-width="1.5"/>
<text transform="translate(608.90,214.40) rotate(-60)" x="0" y="9.5" text-anchor="end" font-size="12" fill="#141414" stroke="#141414">0.50</text>
<line x1="526.50" y1="191.30" x2="534.8" y2="191.30" stroke="#111111" stroke-width="1.5"/>
<text x="518.80" y="196.40" text-anchor="end" font-size="12" fill="#141414" stroke="#141414">0</text>
<line x1="526.50" y1="120.30" x2="534.8" y2="120.30" stroke="#111111" stroke-width="1.5"/>
<text x="518.80" y="125.40" text-anchor="end" font-size="12" fill="#141414" stroke="#141414">5</text>
<line x1="526.50" y1="49.30" x2="534.8" y2="49.30" stroke="#111111" stroke-width="1.5"/>
<text x="518.80" y="54.40" text-anchor="end" font-size="12" fill="#141414" stroke="#141414">10</text>
<text transform="translate(586.05,10.5) scale(1.04,1)" text-anchor="middle" font-size="12.3" font-weight="bold" fill="#141414" stroke="none">P(τ|data)</text>
<text x="586.05" y="257.4" text-anchor="middle" font-size="12" fill="#141414" stroke="#141414">τ</text>
<text transform="translate(494.00,109.50) rotate(-90) scale(1.06,1)" x="0" y="0" text-anchor="middle" font-size="12" fill="#141414" stroke="#141414">P(τ|data)</text>
<rect x="644.6" y="32.2" width="8" height="8" fill="#0072B2" fill-opacity="0.8"/>
<rect x="644.6" y="47.1" width="8" height="8" fill="#E69F00" fill-opacity="0.8"/>
<text x="660.5" y="40.9" font-size="12.4" fill="#141414" stroke="#141414">control</text>
<text x="660.5" y="55.5" font-size="12.4" fill="#141414" stroke="#141414">sample</text>
<line x1="43.60" y1="292.3" x2="43.60" y2="472.8" stroke="rgba(0,0,0,0.13)" stroke-width="1.4"/>
<line x1="59.96" y1="292.3" x2="59.96" y2="472.8" stroke="rgba(0,0,0,0.13)" stroke-width="1.4"/>
<line x1="76.31" y1="292.3" x2="76.31" y2="472.8" stroke="rgba(0,0,0,0.13)" stroke-width="1.4"/>
<line x1="92.67" y1="292.3" x2="92.67" y2="472.8" stroke="rgba(0,0,0,0.13)" stroke-width="1.4"/>
<line x1="109.03" y1="292.3" x2="109.03" y2="472.8" stroke="rgba(0,0,0,0.13)" stroke-width="1.4"/>
<line x1="125.39" y1="292.3" x2="125.39" y2="472.8" stroke="rgba(0,0,0,0.13)" stroke-width="1.4"/>
<line x1="141.75" y1="292.3" x2="141.75" y2="472.8" stroke="rgba(0,0,0,0.13)" stroke-width="1.4"/>
<line x1="158.10" y1="292.3" x2="158.10" y2="472.8" stroke="rgba(0,0,0,0.13)" stroke-width="1.4"/>
<line x1="174.46" y1="292.3" x2="174.46" y2="472.8" stroke="rgba(0,0,0,0.13)" stroke-width="1.4"/>
<line x1="190.82" y1="292.3" x2="190.82" y2="472.8" stroke="rgba(0,0,0,0.13)" stroke-width="1.4"/>
<line x1="207.18" y1="292.3" x2="207.18" y2="472.8" stroke="rgba(0,0,0,0.13)" stroke-width="1.4"/>
<line x1="223.53" y1="292.3" x2="223.53" y2="472.8" stroke="rgba(0,0,0,0.13)" stroke-width="1.4"/>
<line x1="239.89" y1="292.3" x2="239.89" y2="472.8" stroke="rgba(0,0,0,0.13)" stroke-width="1.4"/>
<line x1="256.25" y1="292.3" x2="256.25" y2="472.8" stroke="rgba(0,0,0,0.13)" stroke-width="1.4"/>
<line x1="272.61" y1="292.3" x2="272.61" y2="472.8" stroke="rgba(0,0,0,0.13)" stroke-width="1.4"/>
<line x1="288.96" y1="292.3" x2="288.96" y2="472.8" stroke="rgba(0,0,0,0.13)" stroke-width="1.4"/>
<line x1="305.32" y1="292.3" x2="305.32" y2="472.8" stroke="rgba(0,0,0,0.13)" stroke-width="1.4"/>
<line x1="321.68" y1="292.3" x2="321.68" y2="472.8" stroke="rgba(0,0,0,0.13)" stroke-width="1.4"/>
<line x1="338.04" y1="292.3" x2="338.04" y2="472.8" stroke="rgba(0,0,0,0.13)" stroke-width="1.4"/>
<line x1="354.39" y1="292.3" x2="354.39" y2="472.8" stroke="rgba(0,0,0,0.13)" stroke-width="1.4"/>
<line x1="370.75" y1="292.3" x2="370.75" y2="472.8" stroke="rgba(0,0,0,0.13)" stroke-width="1.4"/>
<line x1="387.11" y1="292.3" x2="387.11" y2="472.8" stroke="rgba(0,0,0,0.13)" stroke-width="1.4"/>
<line x1="403.46" y1="292.3" x2="403.46" y2="472.8" stroke="rgba(0,0,0,0.13)" stroke-width="1.4"/>
<line x1="419.82" y1="292.3" x2="419.82" y2="472.8" stroke="rgba(0,0,0,0.13)" stroke-width="1.4"/>
<line x1="436.18" y1="292.3" x2="436.18" y2="472.8" stroke="rgba(0,0,0,0.13)" stroke-width="1.4"/>
<line x1="452.54" y1="292.3" x2="452.54" y2="472.8" stroke="rgba(0,0,0,0.13)" stroke-width="1.4"/>
<line x1="468.89" y1="292.3" x2="468.89" y2="472.8" stroke="rgba(0,0,0,0.13)" stroke-width="1.4"/>
<line x1="485.25" y1="292.3" x2="485.25" y2="472.8" stroke="rgba(0,0,0,0.13)" stroke-width="1.4"/>
<line x1="501.61" y1="292.3" x2="501.61" y2="472.8" stroke="rgba(0,0,0,0.13)" stroke-width="1.4"/>
<line x1="517.97" y1="292.3" x2="517.97" y2="472.8" stroke="rgba(0,0,0,0.13)" stroke-width="1.4"/>
<line x1="534.33" y1="292.3" x2="534.33" y2="472.8" stroke="rgba(0,0,0,0.13)" stroke-width="1.4"/>
<line x1="550.68" y1="292.3" x2="550.68" y2="472.8" stroke="rgba(0,0,0,0.13)" stroke-width="1.4"/>
<line x1="567.04" y1="292.3" x2="567.04" y2="472.8" stroke="rgba(0,0,0,0.13)" stroke-width="1.4"/>
<line x1="583.40" y1="292.3" x2="583.40" y2="472.8" stroke="rgba(0,0,0,0.13)" stroke-width="1.4"/>
<line x1="599.75" y1="292.3" x2="599.75" y2="472.8" stroke="rgba(0,0,0,0.13)" stroke-width="1.4"/>
<line x1="616.11" y1="292.3" x2="616.11" y2="472.8" stroke="rgba(0,0,0,0.13)" stroke-width="1.4"/>
<line x1="632.47" y1="292.3" x2="632.47" y2="472.8" stroke="rgba(0,0,0,0.13)" stroke-width="1.4"/>
<line x1="648.83" y1="292.3" x2="648.83" y2="472.8" stroke="rgba(0,0,0,0.13)" stroke-width="1.4"/>
<line x1="665.18" y1="292.3" x2="665.18" y2="472.8" stroke="rgba(0,0,0,0.13)" stroke-width="1.4"/>
<line x1="681.54" y1="292.3" x2="681.54" y2="472.8" stroke="rgba(0,0,0,0.13)" stroke-width="1.4"/>
<line x1="697.90" y1="292.3" x2="697.90" y2="472.8" stroke="rgba(0,0,0,0.13)" stroke-width="1.4"/>
<line x1="43.6" y1="464.60" x2="697.9" y2="464.60" stroke="rgba(0,0,0,0.13)" stroke-width="1.4"/>
<line x1="43.6" y1="419.83" x2="697.9" y2="419.83" stroke="rgba(0,0,0,0.13)" stroke-width="1.4"/>
<line x1="43.6" y1="375.06" x2="697.9" y2="375.06" stroke="rgba(0,0,0,0.13)" stroke-width="1.4"/>
<line x1="43.6" y1="330.29" x2="697.9" y2="330.29" stroke="rgba(0,0,0,0.13)" stroke-width="1.4"/>
<path d="M403.00,464.60 L403.00,464.33 403.31,464.31 403.62,464.29 403.93,464.27 404.24,464.25 404.55,464.23 404.86,464.20 405.18,464.18 405.49,464.15 405.80,464.13 406.11,464.10 406.42,464.07 406.73,464.04 407.04,464.00 407.35,463.97 407.66,463.93 407.97,463.89 408.28,463.85 408.59,463.80 408.90,463.76 409.22,463.71 409.53,463.66 409.84,463.60 410.15,463.54 410.46,463.49 410.77,463.42 411.08,463.36 411.39,463.29 411.70,463.22 412.01,463.14 412.32,463.06 412.63,462.98 412.94,462.89 413.26,462.80 413.57,462.70 413.88,462.60 414.19,462.49 414.50,462.38 414.81,462.27 415.12,462.15 415.43,462.02 415.74,461.89 416.05,461.75 416.36,461.61 416.67,461.46 416.98,461.30 417.30,461.14 417.61,460.97 417.92,460.79 418.23,460.60 418.54,460.41 418.85,460.21 419.16,460.00 419.47,459.78 419.78,459.56 420.09,459.32 420.40,459.08 420.71,458.82 421.03,458.56 421.34,458.28 421.65,458.00 421.96,457.70 422.27,457.39 422.58,457.08 422.89,456.75 423.20,456.40 423.51,456.05 423.82,455.68 424.13,455.30 424.44,454.91 424.75,454.50 425.07,454.08 425.38,453.65 425.69,453.20 426.00,452.73 426.31,452.25 426.62,451.76 426.93,451.25 427.24,450.72 427.55,450.17 427.86,449.61 428.17,449.04 428.48,448.44 428.79,447.83 429.11,447.20 429.42,446.55 429.73,445.88 430.04,445.20 430.35,444.49 430.66,443.77 430.97,443.02 431.28,442.26 431.59,441.47 431.90,440.67 432.21,439.85 432.52,439.00 432.83,438.13 433.15,437.25 433.46,436.34 433.77,435.41 434.08,434.45 434.39,433.48 434.70,432.49 435.01,431.47 435.32,430.43 435.63,429.37 435.94,428.29 436.25,427.18 436.56,426.05 436.87,424.91 437.19,423.73 437.50,422.54 437.81,421.33 438.12,420.09 438.43,418.83 438.74,417.55 439.05,416.25 439.36,414.93 439.67,413.59 439.98,412.23 440.29,410.85 440.60,409.44 440.91,408.02 441.23,406.58 441.54,405.12 441.85,403.64 442.16,402.15 442.47,400.63 442.78,399.10 443.09,397.56 443.40,396.00 443.71,394.42 444.02,392.82 444.33,391.22 444.64,389.60 444.95,387.97 445.27,386.32 445.58,384.67 445.89,383.00 446.20,381.32 446.51,379.64 446.82,377.95 447.13,376.25 447.44,374.54 447.75,372.83 448.06,371.12 448.37,369.40 448.68,367.68 448.99,365.95 449.31,364.23 449.62,362.51 449.93,360.79 450.24,359.07 450.55,357.36 450.86,355.65 451.17,353.95 451.48,352.25 451.79,350.56 452.10,348.89 452.41,347.22 452.72,345.57 453.04,343.93 453.35,342.30 453.66,340.69 453.97,339.09 454.28,337.51 454.59,335.96 454.90,334.42 455.21,332.90 455.52,331.41 455.83,329.93 456.14,328.49 456.45,327.07 456.76,325.67 457.08,324.31 457.39,322.97 457.70,321.67 458.01,320.40 458.32,319.15 458.63,317.95 458.94,316.77 459.25,315.63 459.56,314.53 459.87,313.47 460.18,312.44 460.49,311.46 460.80,310.51 461.12,309.61 461.43,308.74 461.74,307.92 462.05,307.14 462.36,306.41 462.67,305.72 462.98,305.07 463.29,304.48 463.60,303.92 463.91,303.42 464.22,302.96 464.53,302.55 464.84,302.18 465.16,301.87 465.47,301.60 465.78,301.38 466.09,301.21 466.40,301.09 466.71,301.02 467.02,301.00 467.33,301.03 467.64,301.11 467.95,301.23 468.26,301.41 468.57,301.63 468.88,301.90 469.20,302.23 469.51,302.60 469.82,303.01 470.13,303.48 470.44,303.99 470.75,304.55 471.06,305.15 471.37,305.81 471.68,306.50 471.99,307.24 472.30,308.02 472.61,308.85 472.92,309.72 473.24,310.63 473.55,311.58 473.86,312.57 474.17,313.60 474.48,314.67 474.79,315.78 475.10,316.92 475.41,318.10 475.72,319.31 476.03,320.56 476.34,321.84 476.65,323.14 476.96,324.48 477.28,325.85 477.59,327.25 477.90,328.67 478.21,330.12 478.52,331.60 478.83,333.09 479.14,334.61 479.45,336.16 479.76,337.72 480.07,339.30 480.38,340.89 480.69,342.51 481.01,344.14 481.32,345.78 481.63,347.44 481.94,349.10 482.25,350.78 482.56,352.47 482.87,354.17 483.18,355.87 483.49,357.58 483.80,359.29 484.11,361.01 484.42,362.73 484.73,364.45 485.05,366.18 485.36,367.90 485.67,369.62 485.98,371.34 486.29,373.05 486.60,374.76 486.91,376.47 487.22,378.17 487.53,379.86 487.84,381.54 488.15,383.22 488.46,384.88 488.77,386.53 489.09,388.18 489.40,389.81 489.71,391.43 490.02,393.03 490.33,394.62 490.64,396.20 490.95,397.76 491.26,399.30 491.57,400.83 491.88,402.34 492.19,403.84 492.50,405.31 492.81,406.77 493.13,408.21 493.44,409.63 493.75,411.03 494.06,412.41 494.37,413.77 494.68,415.11 494.99,416.42 495.30,417.72 495.61,419.00 495.92,420.25 496.23,421.49 496.54,422.70 496.85,423.89 497.17,425.05 497.48,426.20 497.79,427.32 498.10,428.43 498.41,429.51 498.72,430.57 499.03,431.60 499.34,432.62 499.65,433.61 499.96,434.58 500.27,435.53 500.58,436.46 500.89,437.36 501.21,438.25 501.52,439.11 501.83,439.95 502.14,440.78 502.45,441.58 502.76,442.36 503.07,443.12 503.38,443.86 503.69,444.58 504.00,445.29 504.31,445.97 504.62,446.63 504.93,447.28 505.25,447.91 505.56,448.52 505.87,449.11 506.18,449.69 506.49,450.25 506.80,450.79 507.11,451.31 507.42,451.82 507.73,452.31 508.04,452.79 508.35,453.25 508.66,453.70 508.97,454.14 509.29,454.55 509.60,454.96 509.91,455.35 510.22,455.73 510.53,456.10 510.84,456.45 511.15,456.79 511.46,457.12 511.77,457.43 512.08,457.74 512.39,458.03 512.70,458.32 513.02,458.59 513.33,458.85 513.64,459.11 513.95,459.35 514.26,459.59 514.57,459.81 514.88,460.03 515.19,460.24 515.50,460.44 515.81,460.63 516.12,460.81 516.43,460.99 516.74,461.16 517.06,461.32 517.37,461.48 517.68,461.63 517.99,461.77 518.30,461.91 518.61,462.04 518.92,462.16 519.23,462.28 519.54,462.40 519.85,462.51 520.16,462.61 520.47,462.71 520.78,462.81 521.10,462.90 521.41,462.99 521.72,463.07 522.03,463.15 522.34,463.22 522.65,463.30 522.96,463.37 523.27,463.43 523.58,463.49 523.89,463.55 524.20,463.61 524.51,463.66 524.82,463.71 525.14,463.76 525.45,463.81 525.76,463.85 526.07,463.89 526.38,463.93 526.69,463.97 527.00,464.01 L527.00,464.60 Z" fill="#A9A9A9" fill-opacity="1"/>
<line x1="370.75" y1="472.8" x2="370.75" y2="292.3" stroke="#000" stroke-width="2" stroke-dasharray="7.03 7.03"/>
<rect x="43.6" y="292.3" width="654.30" height="180.50" fill="none" stroke="#111111" stroke-width="1.6"/>
<line x1="43.60" y1="472.8" x2="43.60" y2="481.10" stroke="#111111" stroke-width="1.5"/>
<text transform="translate(45.10,487.50) rotate(-60)" x="0" y="9.5" text-anchor="end" font-size="12" fill="#141414" stroke="#141414">-2.0</text>
<line x1="59.96" y1="472.8" x2="59.96" y2="481.10" stroke="#111111" stroke-width="1.5"/>
<text transform="translate(61.46,487.50) rotate(-60)" x="0" y="9.5" text-anchor="end" font-size="12" fill="#141414" stroke="#141414">-1.9</text>
<line x1="76.31" y1="472.8" x2="76.31" y2="481.10" stroke="#111111" stroke-width="1.5"/>
<text transform="translate(77.81,487.50) rotate(-60)" x="0" y="9.5" text-anchor="end" font-size="12" fill="#141414" stroke="#141414">-1.8</text>
<line x1="92.67" y1="472.8" x2="92.67" y2="481.10" stroke="#111111" stroke-width="1.5"/>
<text transform="translate(94.17,487.50) rotate(-60)" x="0" y="9.5" text-anchor="end" font-size="12" fill="#141414" stroke="#141414">-1.7</text>
<line x1="109.03" y1="472.8" x2="109.03" y2="481.10" stroke="#111111" stroke-width="1.5"/>
<text transform="translate(110.53,487.50) rotate(-60)" x="0" y="9.5" text-anchor="end" font-size="12" fill="#141414" stroke="#141414">-1.6</text>
<line x1="125.39" y1="472.8" x2="125.39" y2="481.10" stroke="#111111" stroke-width="1.5"/>
<text transform="translate(126.89,487.50) rotate(-60)" x="0" y="9.5" text-anchor="end" font-size="12" fill="#141414" stroke="#141414">-1.5</text>
<line x1="141.75" y1="472.8" x2="141.75" y2="481.10" stroke="#111111" stroke-width="1.5"/>
<text transform="translate(143.25,487.50) rotate(-60)" x="0" y="9.5" text-anchor="end" font-size="12" fill="#141414" stroke="#141414">-1.4</text>
<line x1="158.10" y1="472.8" x2="158.10" y2="481.10" stroke="#111111" stroke-width="1.5"/>
<text transform="translate(159.60,487.50) rotate(-60)" x="0" y="9.5" text-anchor="end" font-size="12" fill="#141414" stroke="#141414">-1.3</text>
<line x1="174.46" y1="472.8" x2="174.46" y2="481.10" stroke="#111111" stroke-width="1.5"/>
<text transform="translate(175.96,487.50) rotate(-60)" x="0" y="9.5" text-anchor="end" font-size="12" fill="#141414" stroke="#141414">-1.2</text>
<line x1="190.82" y1="472.8" x2="190.82" y2="481.10" stroke="#111111" stroke-width="1.5"/>
<text transform="translate(192.32,487.50) rotate(-60)" x="0" y="9.5" text-anchor="end" font-size="12" fill="#141414" stroke="#141414">-1.1</text>
<line x1="207.18" y1="472.8" x2="207.18" y2="481.10" stroke="#111111" stroke-width="1.5"/>
<text transform="translate(208.68,487.50) rotate(-60)" x="0" y="9.5" text-anchor="end" font-size="12" fill="#141414" stroke="#141414">-1.0</text>
<line x1="223.53" y1="472.8" x2="223.53" y2="481.10" stroke="#111111" stroke-width="1.5"/>
<text transform="translate(225.03,487.50) rotate(-60)" x="0" y="9.5" text-anchor="end" font-size="12" fill="#141414" stroke="#141414">-0.9</text>
<line x1="239.89" y1="472.8" x2="239.89" y2="481.10" stroke="#111111" stroke-width="1.5"/>
<text transform="translate(241.39,487.50) rotate(-60)" x="0" y="9.5" text-anchor="end" font-size="12" fill="#141414" stroke="#141414">-0.8</text>
<line x1="256.25" y1="472.8" x2="256.25" y2="481.10" stroke="#111111" stroke-width="1.5"/>
<text transform="translate(257.75,487.50) rotate(-60)" x="0" y="9.5" text-anchor="end" font-size="12" fill="#141414" stroke="#141414">-0.7</text>
<line x1="272.61" y1="472.8" x2="272.61" y2="481.10" stroke="#111111" stroke-width="1.5"/>
<text transform="translate(274.11,487.50) rotate(-60)" x="0" y="9.5" text-anchor="end" font-size="12" fill="#141414" stroke="#141414">-0.6</text>
<line x1="288.96" y1="472.8" x2="288.96" y2="481.10" stroke="#111111" stroke-width="1.5"/>
<text transform="translate(290.46,487.50) rotate(-60)" x="0" y="9.5" text-anchor="end" font-size="12" fill="#141414" stroke="#141414">-0.5</text>
<line x1="305.32" y1="472.8" x2="305.32" y2="481.10" stroke="#111111" stroke-width="1.5"/>
<text transform="translate(306.82,487.50) rotate(-60)" x="0" y="9.5" text-anchor="end" font-size="12" fill="#141414" stroke="#141414">-0.4</text>
<line x1="321.68" y1="472.8" x2="321.68" y2="481.10" stroke="#111111" stroke-width="1.5"/>
<text transform="translate(323.18,487.50) rotate(-60)" x="0" y="9.5" text-anchor="end" font-size="12" fill="#141414" stroke="#141414">-0.3</text>
<line x1="338.04" y1="472.8" x2="338.04" y2="481.10" stroke="#111111" stroke-width="1.5"/>
<text transform="translate(339.54,487.50) rotate(-60)" x="0" y="9.5" text-anchor="end" font-size="12" fill="#141414" stroke="#141414">-0.2</text>
<line x1="354.39" y1="472.8" x2="354.39" y2="481.10" stroke="#111111" stroke-width="1.5"/>
<text transform="translate(355.89,487.50) rotate(-60)" x="0" y="9.5" text-anchor="end" font-size="12" fill="#141414" stroke="#141414">-0.1</text>
<line x1="370.75" y1="472.8" x2="370.75" y2="481.10" stroke="#111111" stroke-width="1.5"/>
<text transform="translate(372.25,487.50) rotate(-60)" x="0" y="9.5" text-anchor="end" font-size="12" fill="#141414" stroke="#141414">0.0</text>
<line x1="387.11" y1="472.8" x2="387.11" y2="481.10" stroke="#111111" stroke-width="1.5"/>
<text transform="translate(388.61,487.50) rotate(-60)" x="0" y="9.5" text-anchor="end" font-size="12" fill="#141414" stroke="#141414">0.1</text>
<line x1="403.46" y1="472.8" x2="403.46" y2="481.10" stroke="#111111" stroke-width="1.5"/>
<text transform="translate(404.96,487.50) rotate(-60)" x="0" y="9.5" text-anchor="end" font-size="12" fill="#141414" stroke="#141414">0.2</text>
<line x1="419.82" y1="472.8" x2="419.82" y2="481.10" stroke="#111111" stroke-width="1.5"/>
<text transform="translate(421.32,487.50) rotate(-60)" x="0" y="9.5" text-anchor="end" font-size="12" fill="#141414" stroke="#141414">0.3</text>
<line x1="436.18" y1="472.8" x2="436.18" y2="481.10" stroke="#111111" stroke-width="1.5"/>
<text transform="translate(437.68,487.50) rotate(-60)" x="0" y="9.5" text-anchor="end" font-size="12" fill="#141414" stroke="#141414">0.4</text>
<line x1="452.54" y1="472.8" x2="452.54" y2="481.10" stroke="#111111" stroke-width="1.5"/>
<text transform="translate(454.04,487.50) rotate(-60)" x="0" y="9.5" text-anchor="end" font-size="12" fill="#141414" stroke="#141414">0.5</text>
<line x1="468.89" y1="472.8" x2="468.89" y2="481.10" stroke="#111111" stroke-width="1.5"/>
<text transform="translate(470.39,487.50) rotate(-60)" x="0" y="9.5" text-anchor="end" font-size="12" fill="#141414" stroke="#141414">0.6</text>
<line x1="485.25" y1="472.8" x2="485.25" y2="481.10" stroke="#111111" stroke-width="1.5"/>
<text transform="translate(486.75,487.50) rotate(-60)" x="0" y="9.5" text-anchor="end" font-size="12" fill="#141414" stroke="#141414">0.7</text>
<line x1="501.61" y1="472.8" x2="501.61" y2="481.10" stroke="#111111" stroke-width="1.5"/>
<text transform="translate(503.11,487.50) rotate(-60)" x="0" y="9.5" text-anchor="end" font-size="12" fill="#141414" stroke="#141414">0.8</text>
<line x1="517.97" y1="472.8" x2="517.97" y2="481.10" stroke="#111111" stroke-width="1.5"/>
<text transform="translate(519.47,487.50) rotate(-60)" x="0" y="9.5" text-anchor="end" font-size="12" fill="#141414" stroke="#141414">0.9</text>
<line x1="534.33" y1="472.8" x2="534.33" y2="481.10" stroke="#111111" stroke-width="1.5"/>
<text transform="translate(535.83,487.50) rotate(-60)" x="0" y="9.5" text-anchor="end" font-size="12" fill="#141414" stroke="#141414">1.0</text>
<line x1="550.68" y1="472.8" x2="550.68" y2="481.10" stroke="#111111" stroke-width="1.5"/>
<text transform="translate(552.18,487.50) rotate(-60)" x="0" y="9.5" text-anchor="end" font-size="12" fill="#141414" stroke="#141414">1.1</text>
<line x1="567.04" y1="472.8" x2="567.04" y2="481.10" stroke="#111111" stroke-width="1.5"/>
<text transform="translate(568.54,487.50) rotate(-60)" x="0" y="9.5" text-anchor="end" font-size="12" fill="#141414" stroke="#141414">1.2</text>
<line x1="583.40" y1="472.8" x2="583.40" y2="481.10" stroke="#111111" stroke-width="1.5"/>
<text transform="translate(584.90,487.50) rotate(-60)" x="0" y="9.5" text-anchor="end" font-size="12" fill="#141414" stroke="#141414">1.3</text>
<line x1="599.75" y1="472.8" x2="599.75" y2="481.10" stroke="#111111" stroke-width="1.5"/>
<text transform="translate(601.25,487.50) rotate(-60)" x="0" y="9.5" text-anchor="end" font-size="12" fill="#141414" stroke="#141414">1.4</text>
<line x1="616.11" y1="472.8" x2="616.11" y2="481.10" stroke="#111111" stroke-width="1.5"/>
<text transform="translate(617.61,487.50) rotate(-60)" x="0" y="9.5" text-anchor="end" font-size="12" fill="#141414" stroke="#141414">1.5</text>
<line x1="632.47" y1="472.8" x2="632.47" y2="481.10" stroke="#111111" stroke-width="1.5"/>
<text transform="translate(633.97,487.50) rotate(-60)" x="0" y="9.5" text-anchor="end" font-size="12" fill="#141414" stroke="#141414">1.6</text>
<line x1="648.83" y1="472.8" x2="648.83" y2="481.10" stroke="#111111" stroke-width="1.5"/>
<text transform="translate(650.33,487.50) rotate(-60)" x="0" y="9.5" text-anchor="end" font-size="12" fill="#141414" stroke="#141414">1.7</text>
<line x1="665.18" y1="472.8" x2="665.18" y2="481.10" stroke="#111111" stroke-width="1.5"/>
<text transform="translate(666.68,487.50) rotate(-60)" x="0" y="9.5" text-anchor="end" font-size="12" fill="#141414" stroke="#141414">1.8</text>
<line x1="681.54" y1="472.8" x2="681.54" y2="481.10" stroke="#111111" stroke-width="1.5"/>
<text transform="translate(683.04,487.50) rotate(-60)" x="0" y="9.5" text-anchor="end" font-size="12" fill="#141414" stroke="#141414">1.9</text>
<line x1="697.90" y1="472.8" x2="697.90" y2="481.10" stroke="#111111" stroke-width="1.5"/>
<text transform="translate(699.40,487.50) rotate(-60)" x="0" y="9.5" text-anchor="end" font-size="12" fill="#141414" stroke="#141414">2.0</text>
<line x1="35.30" y1="464.60" x2="43.6" y2="464.60" stroke="#111111" stroke-width="1.5"/>
<text x="27.60" y="469.70" text-anchor="end" font-size="12" fill="#141414" stroke="#141414">0</text>
<line x1="35.30" y1="419.83" x2="43.6" y2="419.83" stroke="#111111" stroke-width="1.5"/>
<text x="27.60" y="424.93" text-anchor="end" font-size="12" fill="#141414" stroke="#141414">1</text>
<line x1="35.30" y1="375.06" x2="43.6" y2="375.06" stroke="#111111" stroke-width="1.5"/>
<text x="27.60" y="380.16" text-anchor="end" font-size="12" fill="#141414" stroke="#141414">2</text>
<line x1="35.30" y1="330.29" x2="43.6" y2="330.29" stroke="#111111" stroke-width="1.5"/>
<text x="27.60" y="335.39" text-anchor="end" font-size="12" fill="#141414" stroke="#141414">3</text>
<text x="370.75" y="528.2" text-anchor="middle" font-size="12" fill="#141414" stroke="#141414">Δρ</text>
<text transform="translate(370.95,283.9) scale(1.04,1)" text-anchor="middle" font-size="12.3" font-weight="bold" fill="#141414" stroke="none">P(Δρ|data)</text>
<text transform="translate(10,382.5) rotate(-90) scale(1.06,1)" x="0" y="0" text-anchor="middle" font-size="12" fill="#141414" stroke="#141414">P(Δρ|data)</text>
</g>
</svg>
</body></html>
